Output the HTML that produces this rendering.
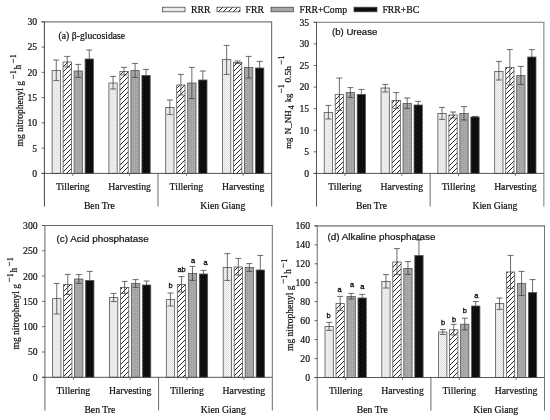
<!DOCTYPE html>
<html lang="en"><head><meta charset="utf-8"><title>Soil enzyme activities</title>
<style>html,body{margin:0;padding:0;background:#fff}svg{display:block}.s{font-family:"Liberation Serif",serif}.a{font-family:"Liberation Sans",sans-serif}text{stroke:#222;stroke-width:0.22px;paint-order:stroke}</style></head><body>
<svg width="550" height="420" viewBox="0 0 550 420">
<defs>
<pattern id="p1" width="2" height="2" patternUnits="userSpaceOnUse"><rect width="2" height="2" fill="#f3f3f3"/><rect width="1" height="1" fill="#dcdcdc"/><rect x="1" y="1" width="1" height="1" fill="#e6e6e6"/></pattern>
<pattern id="p2" width="5" height="5" patternUnits="userSpaceOnUse"><rect width="5" height="5" fill="#fff"/><path d="M-1 1L1 -1M-1 6L6 -1M4 6L6 4" stroke="#1c1c1c" stroke-width="0.95"/></pattern>
<pattern id="p3" width="2" height="2" patternUnits="userSpaceOnUse"><rect width="2" height="2" fill="#a2a2a2"/><rect width="1" height="1" fill="#b4b4b4"/></pattern>
<pattern id="p4" width="3" height="4" patternUnits="userSpaceOnUse"><rect width="3" height="4" fill="#070707"/><rect x="0.5" y="0.5" width="1" height="1" fill="#2e2e2e"/><rect x="2" y="2.5" width="1" height="1" fill="#2e2e2e"/></pattern>
</defs>
<rect width="550" height="420" fill="#fff"/>
<rect x="162.4" y="7.2" width="22.6" height="4.6" fill="url(#p1)" stroke="#444" stroke-width="0.75"/>
<text class="s" x="191.0" y="12.7" font-size="9.7" fill="#111">RRR</text>
<rect x="217.0" y="7.2" width="23.0" height="4.6" fill="url(#p2)" stroke="#444" stroke-width="0.75"/>
<text class="s" x="245.6" y="12.7" font-size="9.7" fill="#111">FRR</text>
<rect x="271.0" y="7.2" width="22.6" height="4.6" fill="url(#p3)" stroke="#444" stroke-width="0.75"/>
<text class="s" x="299.6" y="12.7" font-size="9.7" fill="#111">FRR+Comp</text>
<rect x="354.0" y="7.2" width="23.0" height="4.6" fill="url(#p4)" stroke="#444" stroke-width="0.75"/>
<text class="s" x="382.4" y="12.7" font-size="9.7" fill="#111">FRR+BC</text>
<rect x="52.10" y="70.40" width="8.3" height="103.00" fill="url(#p1)" stroke="#555" stroke-width="0.8"/>
<path d="M56.25 60.00V80.60M53.25 60.00H59.25M53.25 80.60H59.25" stroke="#3c3c3c" stroke-width="0.75" fill="none"/>
<rect x="63.10" y="62.00" width="8.3" height="111.40" fill="url(#p2)" stroke="#555" stroke-width="0.8"/>
<path d="M67.25 56.40V67.00M64.25 56.40H70.25M64.25 67.00H70.25" stroke="#3c3c3c" stroke-width="0.75" fill="none"/>
<rect x="74.10" y="71.00" width="8.3" height="102.40" fill="url(#p3)" stroke="#555" stroke-width="0.8"/>
<path d="M78.25 64.40V77.40M75.25 64.40H81.25M75.25 77.40H81.25" stroke="#3c3c3c" stroke-width="0.75" fill="none"/>
<rect x="85.10" y="59.00" width="8.3" height="114.40" fill="url(#p4)" stroke="#555" stroke-width="0.8"/>
<path d="M89.25 50.00V59.00M86.25 50.00H92.25" stroke="#3c3c3c" stroke-width="0.75" fill="none"/>
<rect x="108.90" y="83.00" width="8.3" height="90.40" fill="url(#p1)" stroke="#555" stroke-width="0.8"/>
<path d="M113.05 76.40V89.00M110.05 76.40H116.05M110.05 89.00H116.05" stroke="#3c3c3c" stroke-width="0.75" fill="none"/>
<rect x="119.90" y="71.40" width="8.3" height="102.00" fill="url(#p2)" stroke="#555" stroke-width="0.8"/>
<path d="M124.05 67.40V75.00M121.05 67.40H127.05M121.05 75.00H127.05" stroke="#3c3c3c" stroke-width="0.75" fill="none"/>
<rect x="130.90" y="70.60" width="8.3" height="102.80" fill="url(#p3)" stroke="#555" stroke-width="0.8"/>
<path d="M135.05 63.40V77.40M132.05 63.40H138.05M132.05 77.40H138.05" stroke="#3c3c3c" stroke-width="0.75" fill="none"/>
<rect x="141.90" y="75.40" width="8.3" height="98.00" fill="url(#p4)" stroke="#555" stroke-width="0.8"/>
<path d="M146.05 69.40V75.40M143.05 69.40H149.05" stroke="#3c3c3c" stroke-width="0.75" fill="none"/>
<rect x="165.70" y="107.40" width="8.3" height="66.00" fill="url(#p1)" stroke="#555" stroke-width="0.8"/>
<path d="M169.85 100.00V114.60M166.85 100.00H172.85M166.85 114.60H172.85" stroke="#3c3c3c" stroke-width="0.75" fill="none"/>
<rect x="176.70" y="85.00" width="8.3" height="88.40" fill="url(#p2)" stroke="#555" stroke-width="0.8"/>
<path d="M180.85 74.40V95.00M177.85 74.40H183.85M177.85 95.00H183.85" stroke="#3c3c3c" stroke-width="0.75" fill="none"/>
<rect x="187.70" y="83.00" width="8.3" height="90.40" fill="url(#p3)" stroke="#555" stroke-width="0.8"/>
<path d="M191.85 67.40V98.60M188.85 67.40H194.85M188.85 98.60H194.85" stroke="#3c3c3c" stroke-width="0.75" fill="none"/>
<rect x="198.70" y="80.00" width="8.3" height="93.40" fill="url(#p4)" stroke="#555" stroke-width="0.8"/>
<path d="M202.85 71.00V80.00M199.85 71.00H205.85" stroke="#3c3c3c" stroke-width="0.75" fill="none"/>
<rect x="222.50" y="59.60" width="8.3" height="113.80" fill="url(#p1)" stroke="#555" stroke-width="0.8"/>
<path d="M226.65 45.40V74.40M223.65 45.40H229.65M223.65 74.40H229.65" stroke="#3c3c3c" stroke-width="0.75" fill="none"/>
<rect x="233.50" y="62.40" width="8.3" height="111.00" fill="url(#p2)" stroke="#555" stroke-width="0.8"/>
<path d="M237.65 61.00V63.60M234.65 61.00H240.65M234.65 63.60H240.65" stroke="#3c3c3c" stroke-width="0.75" fill="none"/>
<rect x="244.50" y="67.40" width="8.3" height="106.00" fill="url(#p3)" stroke="#555" stroke-width="0.8"/>
<path d="M248.65 56.40V78.00M245.65 56.40H251.65M245.65 78.00H251.65" stroke="#3c3c3c" stroke-width="0.75" fill="none"/>
<rect x="255.50" y="68.00" width="8.3" height="105.40" fill="url(#p4)" stroke="#555" stroke-width="0.8"/>
<path d="M259.65 61.40V68.00M256.65 61.40H262.65" stroke="#3c3c3c" stroke-width="0.75" fill="none"/>
<path d="M41.6 21.8H272.20" stroke="#7a7a7a" stroke-width="1.3" fill="none"/>
<path d="M271.6 21.8V206.5" stroke="#7a7a7a" stroke-width="1.2" fill="none"/>
<path d="M44.4 21.8V206.5" stroke="#444" stroke-width="1.0" fill="none"/>
<path d="M41.6 173.4H271.6" stroke="#444" stroke-width="0.9" fill="none"/>
<path d="M158.00 173.4V206.5" stroke="#444" stroke-width="0.8" fill="none"/>
<path d="M41.6 173.40H44.4" stroke="#444" stroke-width="0.8"/>
<text class="s" x="37.1" y="176.80" font-size="9.7" text-anchor="end" fill="#111">0</text>
<path d="M41.6 148.13H44.4" stroke="#444" stroke-width="0.8"/>
<text class="s" x="37.1" y="151.53" font-size="9.7" text-anchor="end" fill="#111">5</text>
<path d="M41.6 122.87H44.4" stroke="#444" stroke-width="0.8"/>
<text class="s" x="37.1" y="126.27" font-size="9.7" text-anchor="end" fill="#111">10</text>
<path d="M41.6 97.60H44.4" stroke="#444" stroke-width="0.8"/>
<text class="s" x="37.1" y="101.00" font-size="9.7" text-anchor="end" fill="#111">15</text>
<path d="M41.6 72.33H44.4" stroke="#444" stroke-width="0.8"/>
<text class="s" x="37.1" y="75.73" font-size="9.7" text-anchor="end" fill="#111">20</text>
<path d="M41.6 47.07H44.4" stroke="#444" stroke-width="0.8"/>
<text class="s" x="37.1" y="50.47" font-size="9.7" text-anchor="end" fill="#111">25</text>
<path d="M41.6 21.80H44.4" stroke="#444" stroke-width="0.8"/>
<text class="s" x="37.1" y="25.20" font-size="9.7" text-anchor="end" fill="#111">30</text>
<path d="M72.80 173.4V175.8" stroke="#444" stroke-width="0.8"/>
<text class="s" x="72.80" y="190.2" font-size="9.7" text-anchor="middle" fill="#111">Tillering</text>
<path d="M129.60 173.4V175.8" stroke="#444" stroke-width="0.8"/>
<text class="s" x="129.60" y="190.2" font-size="9.7" text-anchor="middle" fill="#111">Harvesting</text>
<path d="M186.40 173.4V175.8" stroke="#444" stroke-width="0.8"/>
<text class="s" x="186.40" y="190.2" font-size="9.7" text-anchor="middle" fill="#111">Tillering</text>
<path d="M243.20 173.4V175.8" stroke="#444" stroke-width="0.8"/>
<text class="s" x="243.20" y="190.2" font-size="9.7" text-anchor="middle" fill="#111">Harvesting</text>
<text class="s" x="99.40" y="209.3" font-size="9.7" text-anchor="middle" fill="#111">Ben Tre</text>
<text class="s" x="222.80" y="209.3" font-size="9.7" text-anchor="middle" fill="#111">Kien Giang</text>
<text class="s" x="58.6" y="38.6" font-size="9.7" fill="#111">(a) β-glucosidase</text>
<rect x="324.21" y="112.40" width="8.3" height="61.00" fill="url(#p1)" stroke="#555" stroke-width="0.8"/>
<path d="M328.36 105.40V119.00M325.36 105.40H331.36M325.36 119.00H331.36" stroke="#3c3c3c" stroke-width="0.75" fill="none"/>
<rect x="335.21" y="94.40" width="8.3" height="79.00" fill="url(#p2)" stroke="#555" stroke-width="0.8"/>
<path d="M339.36 78.00V110.60M336.36 78.00H342.36M336.36 110.60H342.36" stroke="#3c3c3c" stroke-width="0.75" fill="none"/>
<rect x="346.21" y="92.60" width="8.3" height="80.80" fill="url(#p3)" stroke="#555" stroke-width="0.8"/>
<path d="M350.36 87.60V97.40M347.36 87.60H353.36M347.36 97.40H353.36" stroke="#3c3c3c" stroke-width="0.75" fill="none"/>
<rect x="357.21" y="94.40" width="8.3" height="79.00" fill="url(#p4)" stroke="#555" stroke-width="0.8"/>
<path d="M361.36 89.40V94.40M358.36 89.40H364.36" stroke="#3c3c3c" stroke-width="0.75" fill="none"/>
<rect x="381.04" y="88.00" width="8.3" height="85.40" fill="url(#p1)" stroke="#555" stroke-width="0.8"/>
<path d="M385.19 84.40V92.00M382.19 84.40H388.19M382.19 92.00H388.19" stroke="#3c3c3c" stroke-width="0.75" fill="none"/>
<rect x="392.04" y="100.40" width="8.3" height="73.00" fill="url(#p2)" stroke="#555" stroke-width="0.8"/>
<path d="M396.19 92.60V108.40M393.19 92.60H399.19M393.19 108.40H399.19" stroke="#3c3c3c" stroke-width="0.75" fill="none"/>
<rect x="403.04" y="103.40" width="8.3" height="70.00" fill="url(#p3)" stroke="#555" stroke-width="0.8"/>
<path d="M407.19 98.00V108.40M404.19 98.00H410.19M404.19 108.40H410.19" stroke="#3c3c3c" stroke-width="0.75" fill="none"/>
<rect x="414.04" y="105.00" width="8.3" height="68.40" fill="url(#p4)" stroke="#555" stroke-width="0.8"/>
<path d="M418.19 101.40V105.00M415.19 101.40H421.19" stroke="#3c3c3c" stroke-width="0.75" fill="none"/>
<rect x="437.86" y="113.40" width="8.3" height="60.00" fill="url(#p1)" stroke="#555" stroke-width="0.8"/>
<path d="M442.01 107.40V119.40M439.01 107.40H445.01M439.01 119.40H445.01" stroke="#3c3c3c" stroke-width="0.75" fill="none"/>
<rect x="448.86" y="115.00" width="8.3" height="58.40" fill="url(#p2)" stroke="#555" stroke-width="0.8"/>
<path d="M453.01 112.00V118.00M450.01 112.00H456.01M450.01 118.00H456.01" stroke="#3c3c3c" stroke-width="0.75" fill="none"/>
<rect x="459.86" y="113.40" width="8.3" height="60.00" fill="url(#p3)" stroke="#555" stroke-width="0.8"/>
<path d="M464.01 106.60V120.00M461.01 106.60H467.01M461.01 120.00H467.01" stroke="#3c3c3c" stroke-width="0.75" fill="none"/>
<rect x="470.86" y="117.00" width="8.3" height="56.40" fill="url(#p4)" stroke="#555" stroke-width="0.8"/>
<path d="M475.01 116.40V117.00M472.01 116.40H478.01" stroke="#3c3c3c" stroke-width="0.75" fill="none"/>
<rect x="494.69" y="71.40" width="8.3" height="102.00" fill="url(#p1)" stroke="#555" stroke-width="0.8"/>
<path d="M498.84 61.40V80.00M495.84 61.40H501.84M495.84 80.00H501.84" stroke="#3c3c3c" stroke-width="0.75" fill="none"/>
<rect x="505.69" y="67.40" width="8.3" height="106.00" fill="url(#p2)" stroke="#555" stroke-width="0.8"/>
<path d="M509.84 49.60V85.00M506.84 49.60H512.84M506.84 85.00H512.84" stroke="#3c3c3c" stroke-width="0.75" fill="none"/>
<rect x="516.69" y="75.60" width="8.3" height="97.80" fill="url(#p3)" stroke="#555" stroke-width="0.8"/>
<path d="M520.84 66.40V84.40M517.84 66.40H523.84M517.84 84.40H523.84" stroke="#3c3c3c" stroke-width="0.75" fill="none"/>
<rect x="527.69" y="57.00" width="8.3" height="116.40" fill="url(#p4)" stroke="#555" stroke-width="0.8"/>
<path d="M531.84 49.60V57.00M528.84 49.60H534.84" stroke="#3c3c3c" stroke-width="0.75" fill="none"/>
<path d="M313.7 22.3H544.45" stroke="#777" stroke-width="1.1" fill="none"/>
<path d="M543.8 22.3V206.5" stroke="#999" stroke-width="1.3" fill="none"/>
<path d="M316.5 22.3V206.5" stroke="#444" stroke-width="0.9" fill="none"/>
<path d="M313.7 173.4H543.8" stroke="#444" stroke-width="0.9" fill="none"/>
<path d="M430.15 173.4V206.5" stroke="#444" stroke-width="0.8" fill="none"/>
<path d="M313.7 173.40H316.5" stroke="#444" stroke-width="0.8"/>
<text class="s" x="309.2" y="176.80" font-size="9.7" text-anchor="end" fill="#111">0</text>
<path d="M313.7 151.81H316.5" stroke="#444" stroke-width="0.8"/>
<text class="s" x="309.2" y="155.21" font-size="9.7" text-anchor="end" fill="#111">5</text>
<path d="M313.7 130.23H316.5" stroke="#444" stroke-width="0.8"/>
<text class="s" x="309.2" y="133.63" font-size="9.7" text-anchor="end" fill="#111">10</text>
<path d="M313.7 108.64H316.5" stroke="#444" stroke-width="0.8"/>
<text class="s" x="309.2" y="112.04" font-size="9.7" text-anchor="end" fill="#111">15</text>
<path d="M313.7 87.06H316.5" stroke="#444" stroke-width="0.8"/>
<text class="s" x="309.2" y="90.46" font-size="9.7" text-anchor="end" fill="#111">20</text>
<path d="M313.7 65.47H316.5" stroke="#444" stroke-width="0.8"/>
<text class="s" x="309.2" y="68.87" font-size="9.7" text-anchor="end" fill="#111">25</text>
<path d="M313.7 43.89H316.5" stroke="#444" stroke-width="0.8"/>
<text class="s" x="309.2" y="47.29" font-size="9.7" text-anchor="end" fill="#111">30</text>
<path d="M313.7 22.30H316.5" stroke="#444" stroke-width="0.8"/>
<text class="s" x="309.2" y="25.70" font-size="9.7" text-anchor="end" fill="#111">35</text>
<path d="M344.91 173.4V175.8" stroke="#444" stroke-width="0.8"/>
<text class="s" x="344.91" y="190.2" font-size="9.7" text-anchor="middle" fill="#111">Tillering</text>
<path d="M401.74 173.4V175.8" stroke="#444" stroke-width="0.8"/>
<text class="s" x="401.74" y="190.2" font-size="9.7" text-anchor="middle" fill="#111">Harvesting</text>
<path d="M458.56 173.4V175.8" stroke="#444" stroke-width="0.8"/>
<text class="s" x="458.56" y="190.2" font-size="9.7" text-anchor="middle" fill="#111">Tillering</text>
<path d="M515.39 173.4V175.8" stroke="#444" stroke-width="0.8"/>
<text class="s" x="515.39" y="190.2" font-size="9.7" text-anchor="middle" fill="#111">Harvesting</text>
<text class="s" x="371.50" y="209.3" font-size="9.7" text-anchor="middle" fill="#111">Ben Tre</text>
<text class="s" x="494.90" y="209.3" font-size="9.7" text-anchor="middle" fill="#111">Kien Giang</text>
<text class="a" x="332" y="35" font-size="9.6" fill="#111">(b) Urease</text>
<rect x="52.62" y="298.60" width="8.3" height="78.70" fill="url(#p1)" stroke="#555" stroke-width="0.8"/>
<path d="M56.77 283.40V314.00M53.77 283.40H59.77M53.77 314.00H59.77" stroke="#3c3c3c" stroke-width="0.75" fill="none"/>
<rect x="63.62" y="284.40" width="8.3" height="92.90" fill="url(#p2)" stroke="#555" stroke-width="0.8"/>
<path d="M67.78 274.40V294.40M64.78 274.40H70.78M64.78 294.40H70.78" stroke="#3c3c3c" stroke-width="0.75" fill="none"/>
<rect x="74.62" y="279.00" width="8.3" height="98.30" fill="url(#p3)" stroke="#555" stroke-width="0.8"/>
<path d="M78.78 274.60V283.40M75.78 274.60H81.78M75.78 283.40H81.78" stroke="#3c3c3c" stroke-width="0.75" fill="none"/>
<rect x="85.62" y="280.40" width="8.3" height="96.90" fill="url(#p4)" stroke="#555" stroke-width="0.8"/>
<path d="M89.78 271.40V280.40M86.78 271.40H92.78" stroke="#3c3c3c" stroke-width="0.75" fill="none"/>
<rect x="109.48" y="297.60" width="8.3" height="79.70" fill="url(#p1)" stroke="#555" stroke-width="0.8"/>
<path d="M113.63 293.40V301.60M110.63 293.40H116.63M110.63 301.60H116.63" stroke="#3c3c3c" stroke-width="0.75" fill="none"/>
<rect x="120.48" y="287.40" width="8.3" height="89.90" fill="url(#p2)" stroke="#555" stroke-width="0.8"/>
<path d="M124.63 281.40V293.40M121.63 281.40H127.63M121.63 293.40H127.63" stroke="#3c3c3c" stroke-width="0.75" fill="none"/>
<rect x="131.48" y="283.40" width="8.3" height="93.90" fill="url(#p3)" stroke="#555" stroke-width="0.8"/>
<path d="M135.63 279.60V287.40M132.63 279.60H138.63M132.63 287.40H138.63" stroke="#3c3c3c" stroke-width="0.75" fill="none"/>
<rect x="142.48" y="285.00" width="8.3" height="92.30" fill="url(#p4)" stroke="#555" stroke-width="0.8"/>
<path d="M146.63 281.00V285.00M143.63 281.00H149.63" stroke="#3c3c3c" stroke-width="0.75" fill="none"/>
<rect x="166.33" y="299.60" width="8.3" height="77.70" fill="url(#p1)" stroke="#555" stroke-width="0.8"/>
<path d="M170.48 293.00V306.00M167.48 293.00H173.48M167.48 306.00H173.48" stroke="#3c3c3c" stroke-width="0.75" fill="none"/>
<rect x="177.33" y="284.40" width="8.3" height="92.90" fill="url(#p2)" stroke="#555" stroke-width="0.8"/>
<path d="M181.48 276.60V292.00M178.48 276.60H184.48M178.48 292.00H184.48" stroke="#3c3c3c" stroke-width="0.75" fill="none"/>
<rect x="188.33" y="273.40" width="8.3" height="103.90" fill="url(#p3)" stroke="#555" stroke-width="0.8"/>
<path d="M192.48 266.40V280.40M189.48 266.40H195.48M189.48 280.40H195.48" stroke="#3c3c3c" stroke-width="0.75" fill="none"/>
<rect x="199.33" y="274.00" width="8.3" height="103.30" fill="url(#p4)" stroke="#555" stroke-width="0.8"/>
<path d="M203.48 270.40V274.00M200.48 270.40H206.48" stroke="#3c3c3c" stroke-width="0.75" fill="none"/>
<rect x="223.18" y="267.40" width="8.3" height="109.90" fill="url(#p1)" stroke="#555" stroke-width="0.8"/>
<path d="M227.33 253.60V280.40M224.33 253.60H230.33M224.33 280.40H230.33" stroke="#3c3c3c" stroke-width="0.75" fill="none"/>
<rect x="234.18" y="267.00" width="8.3" height="110.30" fill="url(#p2)" stroke="#555" stroke-width="0.8"/>
<path d="M238.33 258.40V275.00M235.33 258.40H241.33M235.33 275.00H241.33" stroke="#3c3c3c" stroke-width="0.75" fill="none"/>
<rect x="245.18" y="267.40" width="8.3" height="109.90" fill="url(#p3)" stroke="#555" stroke-width="0.8"/>
<path d="M249.33 263.60V271.40M246.33 263.60H252.33M246.33 271.40H252.33" stroke="#3c3c3c" stroke-width="0.75" fill="none"/>
<rect x="256.18" y="270.00" width="8.3" height="107.30" fill="url(#p4)" stroke="#555" stroke-width="0.8"/>
<path d="M260.32 255.40V270.00M257.32 255.40H263.32" stroke="#3c3c3c" stroke-width="0.75" fill="none"/>
<path d="M42.1 225.5H272.80" stroke="#6a6a6a" stroke-width="1.0" fill="none"/>
<path d="M272.3 225.5V410.40000000000003" stroke="#6a6a6a" stroke-width="1.0" fill="none"/>
<path d="M44.9 225.5V410.40000000000003" stroke="#858585" stroke-width="1.3" fill="none"/>
<path d="M42.1 377.3H272.3" stroke="#444" stroke-width="0.9" fill="none"/>
<path d="M158.60 377.3V410.40000000000003" stroke="#444" stroke-width="0.8" fill="none"/>
<path d="M42.1 377.30H44.9" stroke="#444" stroke-width="0.8"/>
<text class="s" x="37.6" y="380.70" font-size="9.7" text-anchor="end" fill="#111">0</text>
<path d="M42.1 352.00H44.9" stroke="#444" stroke-width="0.8"/>
<text class="s" x="37.6" y="355.40" font-size="9.7" text-anchor="end" fill="#111">50</text>
<path d="M42.1 326.70H44.9" stroke="#444" stroke-width="0.8"/>
<text class="s" x="37.6" y="330.10" font-size="9.7" text-anchor="end" fill="#111">100</text>
<path d="M42.1 301.40H44.9" stroke="#444" stroke-width="0.8"/>
<text class="s" x="37.6" y="304.80" font-size="9.7" text-anchor="end" fill="#111">150</text>
<path d="M42.1 276.10H44.9" stroke="#444" stroke-width="0.8"/>
<text class="s" x="37.6" y="279.50" font-size="9.7" text-anchor="end" fill="#111">200</text>
<path d="M42.1 250.80H44.9" stroke="#444" stroke-width="0.8"/>
<text class="s" x="37.6" y="254.20" font-size="9.7" text-anchor="end" fill="#111">250</text>
<path d="M42.1 225.50H44.9" stroke="#444" stroke-width="0.8"/>
<text class="s" x="37.6" y="228.90" font-size="9.7" text-anchor="end" fill="#111">300</text>
<path d="M73.33 377.3V379.7" stroke="#444" stroke-width="0.8"/>
<text class="s" x="73.33" y="394.1" font-size="9.7" text-anchor="middle" fill="#111">Tillering</text>
<path d="M130.18 377.3V379.7" stroke="#444" stroke-width="0.8"/>
<text class="s" x="130.18" y="394.1" font-size="9.7" text-anchor="middle" fill="#111">Harvesting</text>
<path d="M187.03 377.3V379.7" stroke="#444" stroke-width="0.8"/>
<text class="s" x="187.03" y="394.1" font-size="9.7" text-anchor="middle" fill="#111">Tillering</text>
<path d="M243.88 377.3V379.7" stroke="#444" stroke-width="0.8"/>
<text class="s" x="243.88" y="394.1" font-size="9.7" text-anchor="middle" fill="#111">Harvesting</text>
<text class="s" x="99.90" y="413.2" font-size="9.7" text-anchor="middle" fill="#111">Ben Tre</text>
<text class="s" x="223.30" y="413.2" font-size="9.7" text-anchor="middle" fill="#111">Kien Giang</text>
<text class="a" x="56.5" y="241.5" font-size="9.88" fill="#111">(c) Acid phosphatase</text>
<text class="a" x="170.6" y="288.4" font-size="7.4" text-anchor="middle" fill="#111" style="stroke-width:0.35px">b</text>
<text class="a" x="181.6" y="272" font-size="7.4" text-anchor="middle" fill="#111" style="stroke-width:0.35px">ab</text>
<text class="a" x="193" y="262.6" font-size="7.4" text-anchor="middle" fill="#111" style="stroke-width:0.35px">a</text>
<text class="a" x="205.6" y="265" font-size="7.4" text-anchor="middle" fill="#111" style="stroke-width:0.35px">a</text>
<rect x="325.00" y="326.40" width="8.3" height="51.10" fill="url(#p1)" stroke="#555" stroke-width="0.8"/>
<path d="M329.15 322.40V330.40M326.15 322.40H332.15M326.15 330.40H332.15" stroke="#3c3c3c" stroke-width="0.75" fill="none"/>
<rect x="336.00" y="303.60" width="8.3" height="73.90" fill="url(#p2)" stroke="#555" stroke-width="0.8"/>
<path d="M340.15 296.40V310.60M337.15 296.40H343.15M337.15 310.60H343.15" stroke="#3c3c3c" stroke-width="0.75" fill="none"/>
<rect x="347.00" y="296.40" width="8.3" height="81.10" fill="url(#p3)" stroke="#555" stroke-width="0.8"/>
<path d="M351.15 293.40V299.00M348.15 293.40H354.15M348.15 299.00H354.15" stroke="#3c3c3c" stroke-width="0.75" fill="none"/>
<rect x="358.00" y="298.00" width="8.3" height="79.50" fill="url(#p4)" stroke="#555" stroke-width="0.8"/>
<path d="M362.15 294.40V298.00M359.15 294.40H365.15" stroke="#3c3c3c" stroke-width="0.75" fill="none"/>
<rect x="381.80" y="281.40" width="8.3" height="96.10" fill="url(#p1)" stroke="#555" stroke-width="0.8"/>
<path d="M385.95 274.60V288.00M382.95 274.60H388.95M382.95 288.00H388.95" stroke="#3c3c3c" stroke-width="0.75" fill="none"/>
<rect x="392.80" y="262.00" width="8.3" height="115.50" fill="url(#p2)" stroke="#555" stroke-width="0.8"/>
<path d="M396.95 248.60V274.40M393.95 248.60H399.95M393.95 274.40H399.95" stroke="#3c3c3c" stroke-width="0.75" fill="none"/>
<rect x="403.80" y="268.40" width="8.3" height="109.10" fill="url(#p3)" stroke="#555" stroke-width="0.8"/>
<path d="M407.95 261.60V274.40M404.95 261.60H410.95M404.95 274.40H410.95" stroke="#3c3c3c" stroke-width="0.75" fill="none"/>
<rect x="414.80" y="255.50" width="8.3" height="122.00" fill="url(#p4)" stroke="#555" stroke-width="0.8"/>
<path d="M418.95 240.00V255.50M415.95 240.00H421.95" stroke="#3c3c3c" stroke-width="0.75" fill="none"/>
<rect x="438.60" y="332.00" width="8.3" height="45.50" fill="url(#p1)" stroke="#555" stroke-width="0.8"/>
<path d="M442.75 329.50V334.50M439.75 329.50H445.75M439.75 334.50H445.75" stroke="#3c3c3c" stroke-width="0.75" fill="none"/>
<rect x="449.60" y="329.80" width="8.3" height="47.70" fill="url(#p2)" stroke="#555" stroke-width="0.8"/>
<path d="M453.75 324.30V335.00M450.75 324.30H456.75M450.75 335.00H456.75" stroke="#3c3c3c" stroke-width="0.75" fill="none"/>
<rect x="460.60" y="324.20" width="8.3" height="53.30" fill="url(#p3)" stroke="#555" stroke-width="0.8"/>
<path d="M464.75 318.20V329.80M461.75 318.20H467.75M461.75 329.80H467.75" stroke="#3c3c3c" stroke-width="0.75" fill="none"/>
<rect x="471.60" y="306.00" width="8.3" height="71.50" fill="url(#p4)" stroke="#555" stroke-width="0.8"/>
<path d="M475.75 301.50V306.00M472.75 301.50H478.75" stroke="#3c3c3c" stroke-width="0.75" fill="none"/>
<rect x="495.40" y="303.60" width="8.3" height="73.90" fill="url(#p1)" stroke="#555" stroke-width="0.8"/>
<path d="M499.55 298.00V309.40M496.55 298.00H502.55M496.55 309.40H502.55" stroke="#3c3c3c" stroke-width="0.75" fill="none"/>
<rect x="506.40" y="272.00" width="8.3" height="105.50" fill="url(#p2)" stroke="#555" stroke-width="0.8"/>
<path d="M510.55 255.40V288.40M507.55 255.40H513.55M507.55 288.40H513.55" stroke="#3c3c3c" stroke-width="0.75" fill="none"/>
<rect x="517.40" y="283.60" width="8.3" height="93.90" fill="url(#p3)" stroke="#555" stroke-width="0.8"/>
<path d="M521.55 271.40V295.60M518.55 271.40H524.55M518.55 295.60H524.55" stroke="#3c3c3c" stroke-width="0.75" fill="none"/>
<rect x="528.40" y="292.60" width="8.3" height="84.90" fill="url(#p4)" stroke="#555" stroke-width="0.8"/>
<path d="M532.55 279.60V292.60M529.55 279.60H535.55" stroke="#3c3c3c" stroke-width="0.75" fill="none"/>
<path d="M314.5 225.9H544.90" stroke="#999" stroke-width="1.6" fill="none"/>
<path d="M544.5 225.9V410.6" stroke="#555" stroke-width="0.8" fill="none"/>
<path d="M317.3 225.9V410.6" stroke="#858585" stroke-width="1.2" fill="none"/>
<path d="M314.5 377.5H544.5" stroke="#444" stroke-width="0.9" fill="none"/>
<path d="M430.90 377.5V410.6" stroke="#444" stroke-width="0.8" fill="none"/>
<path d="M314.5 377.50H317.3" stroke="#444" stroke-width="0.8"/>
<text class="s" x="310.0" y="380.90" font-size="9.7" text-anchor="end" fill="#111">0</text>
<path d="M314.5 358.55H317.3" stroke="#444" stroke-width="0.8"/>
<text class="s" x="310.0" y="361.95" font-size="9.7" text-anchor="end" fill="#111">20</text>
<path d="M314.5 339.60H317.3" stroke="#444" stroke-width="0.8"/>
<text class="s" x="310.0" y="343.00" font-size="9.7" text-anchor="end" fill="#111">40</text>
<path d="M314.5 320.65H317.3" stroke="#444" stroke-width="0.8"/>
<text class="s" x="310.0" y="324.05" font-size="9.7" text-anchor="end" fill="#111">60</text>
<path d="M314.5 301.70H317.3" stroke="#444" stroke-width="0.8"/>
<text class="s" x="310.0" y="305.10" font-size="9.7" text-anchor="end" fill="#111">80</text>
<path d="M314.5 282.75H317.3" stroke="#444" stroke-width="0.8"/>
<text class="s" x="310.0" y="286.15" font-size="9.7" text-anchor="end" fill="#111">100</text>
<path d="M314.5 263.80H317.3" stroke="#444" stroke-width="0.8"/>
<text class="s" x="310.0" y="267.20" font-size="9.7" text-anchor="end" fill="#111">120</text>
<path d="M314.5 244.85H317.3" stroke="#444" stroke-width="0.8"/>
<text class="s" x="310.0" y="248.25" font-size="9.7" text-anchor="end" fill="#111">140</text>
<path d="M314.5 225.90H317.3" stroke="#444" stroke-width="0.8"/>
<text class="s" x="310.0" y="229.30" font-size="9.7" text-anchor="end" fill="#111">160</text>
<path d="M345.70 377.5V379.9" stroke="#444" stroke-width="0.8"/>
<text class="s" x="345.70" y="394.3" font-size="9.7" text-anchor="middle" fill="#111">Tillering</text>
<path d="M402.50 377.5V379.9" stroke="#444" stroke-width="0.8"/>
<text class="s" x="402.50" y="394.3" font-size="9.7" text-anchor="middle" fill="#111">Harvesting</text>
<path d="M459.30 377.5V379.9" stroke="#444" stroke-width="0.8"/>
<text class="s" x="459.30" y="394.3" font-size="9.7" text-anchor="middle" fill="#111">Tillering</text>
<path d="M516.10 377.5V379.9" stroke="#444" stroke-width="0.8"/>
<text class="s" x="516.10" y="394.3" font-size="9.7" text-anchor="middle" fill="#111">Harvesting</text>
<text class="s" x="372.30" y="413.4" font-size="9.7" text-anchor="middle" fill="#111">Ben Tre</text>
<text class="s" x="495.70" y="413.4" font-size="9.7" text-anchor="middle" fill="#111">Kien Giang</text>
<text class="a" x="327.4" y="239.6" font-size="9.88" fill="#111">(d) Alkaline phosphatase</text>
<text class="a" x="328.6" y="318.4" font-size="7.4" text-anchor="middle" fill="#111" style="stroke-width:0.35px">b</text>
<text class="a" x="339.6" y="291.6" font-size="7.4" text-anchor="middle" fill="#111" style="stroke-width:0.35px">a</text>
<text class="a" x="352" y="286.6" font-size="7.4" text-anchor="middle" fill="#111" style="stroke-width:0.35px">a</text>
<text class="a" x="362.4" y="289" font-size="7.4" text-anchor="middle" fill="#111" style="stroke-width:0.35px">a</text>
<text class="a" x="443.0" y="324.6" font-size="7.4" text-anchor="middle" fill="#111" style="stroke-width:0.35px">b</text>
<text class="a" x="454" y="321.6" font-size="7.4" text-anchor="middle" fill="#111" style="stroke-width:0.35px">b</text>
<text class="a" x="464.8" y="313" font-size="7.4" text-anchor="middle" fill="#111" style="stroke-width:0.35px">b</text>
<text class="a" x="476.4" y="298" font-size="7.4" text-anchor="middle" fill="#111" style="stroke-width:0.35px">a</text>
<g transform="translate(22.6 146.5) rotate(-90)" class="s" font-size="9.5" fill="#111"><text x="0" y="0">mg nitrophenyl g</text><text x="66.9" y="-7.0" font-size="9">−</text><text x="72.6" y="-6.6" font-size="7.3">1</text><text x="77.0" y="-2">h</text><text x="82.7" y="-7.0" font-size="9">−</text><text x="88.4" y="-6.6" font-size="7.3">1</text></g>
<g transform="translate(19.4 349.5) rotate(-90)" class="s" font-size="9.5" fill="#111"><text x="0" y="0">mg nitrophenyl g</text><text x="66.9" y="-7.0" font-size="9">−</text><text x="72.6" y="-6.6" font-size="7.3">1</text><text x="77.0" y="-2">h</text><text x="82.7" y="-7.0" font-size="9">−</text><text x="88.4" y="-6.6" font-size="7.3">1</text></g>
<g transform="translate(293.1 351.0) rotate(-90)" class="s" font-size="9.5" fill="#111"><text x="0" y="0">mg nitrophenyl g</text><text x="66.9" y="-7.0" font-size="9">−</text><text x="72.6" y="-6.6" font-size="7.3">1</text><text x="77.0" y="-2">h</text><text x="82.7" y="-7.0" font-size="9">−</text><text x="88.4" y="-6.6" font-size="7.3">1</text></g>
<g transform="translate(291 148.8) rotate(-90)" class="s" font-size="8.7" fill="#111"><text x="0" y="0">mg</text><text x="14.6" y="0" font-size="9">N_NH</text><text x="39.6" y="3.3" font-size="7.4">4</text><text x="46.6" y="0" font-size="8.6">kg</text><text x="55.3" y="-6.9" font-size="9">−</text><text x="60.9" y="-6.7" font-size="7.3">1</text><text x="66.2" y="-0.3" font-size="7.8" textLength="16.6" lengthAdjust="spacingAndGlyphs">0.5h</text><text x="83.9" y="-6.9" font-size="9">−</text><text x="89.6" y="-6.7" font-size="7.3">1</text></g>
</svg></body></html>
